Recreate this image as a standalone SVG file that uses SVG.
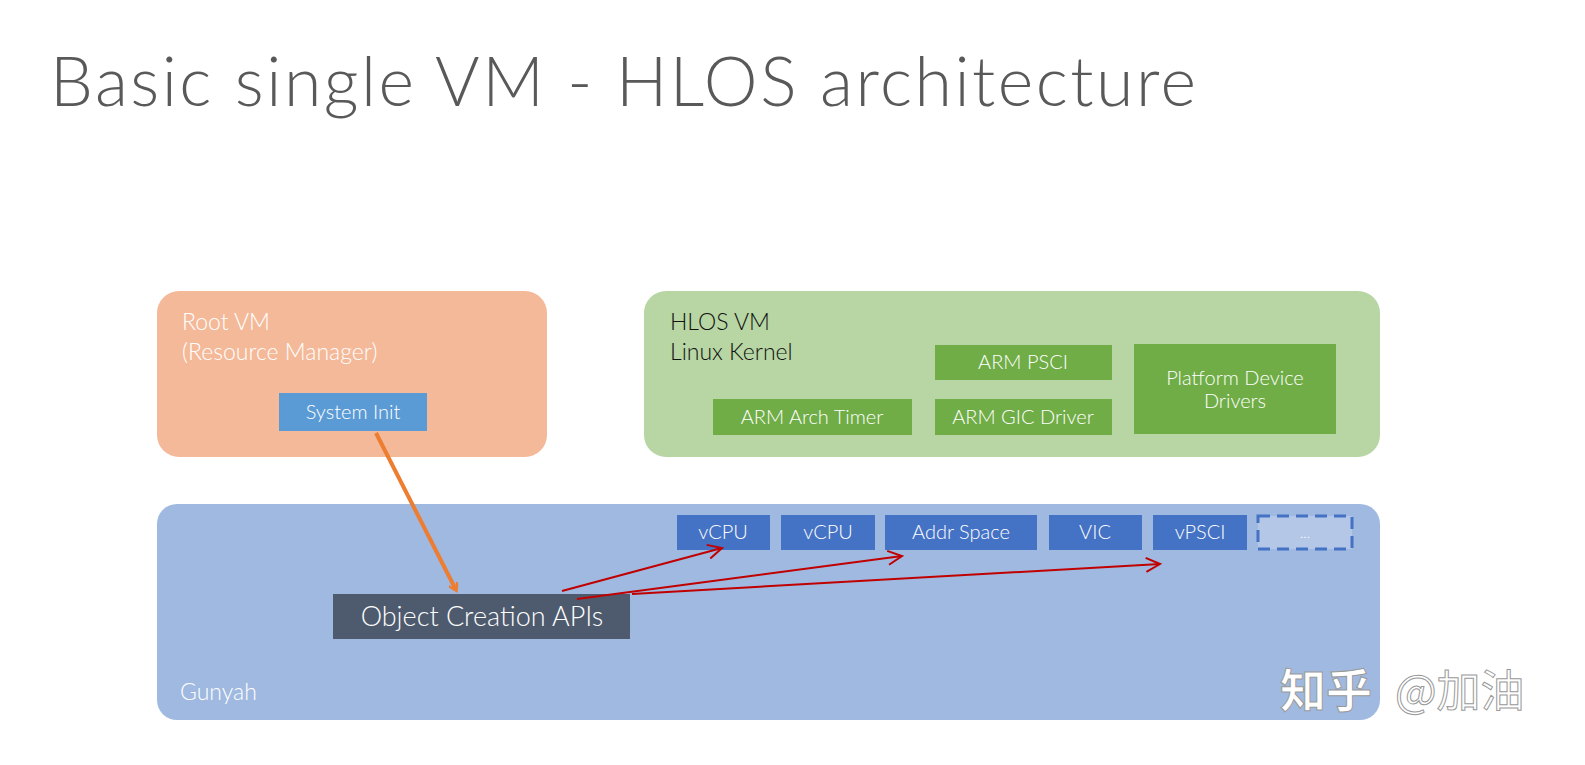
<svg xmlns="http://www.w3.org/2000/svg" width="1585" height="765" viewBox="0 0 1585 765">
<defs>
<style>
text{font-family:"Lato","Open Sans","Liberation Sans",sans-serif;font-weight:300}
.w{fill:#fff;font-size:20px;text-anchor:middle}
.b{fill:#4472c4}
.g{fill:#70ad47}
</style>
<marker id="or" markerWidth="10" markerHeight="10" refX="7" refY="5" orient="auto" markerUnits="userSpaceOnUse" viewBox="0 0 10 10"><path d="M0,0 L8,5 L0,10" fill="none" stroke="#ed7d31" stroke-width="2.5"/></marker>
<marker id="rd" markerWidth="20" markerHeight="20" refX="16" refY="10" orient="auto" markerUnits="userSpaceOnUse" viewBox="0 0 20 20"><path d="M2,3 L16,10 L2,17" fill="none" stroke="#c00000" stroke-width="2"/></marker>
</defs>
<rect width="1585" height="765" fill="#fff"/>
<text x="50" y="106" font-size="68" fill="#595959" letter-spacing="2.5">Basic single VM - HLOS architecture</text>
<g id="rootvm">
<rect x="157" y="291" width="390" height="166" rx="22" fill="#f4b999"/>
<text x="182" y="330" font-size="23" fill="#fff">Root VM</text>
<text x="182" y="360" font-size="23" fill="#fff">(Resource Manager)</text>
</g>
<g id="sysinit"><rect x="279" y="393" width="148" height="38" fill="#5b9bd5"/><text class="w" x="353" y="419">System Init</text></g>
<g id="hlosvm">
<rect x="644" y="291" width="736" height="166" rx="22" fill="#b7d6a4"/>
<text x="670" y="330" font-size="23" fill="#111">HLOS VM</text>
<text x="670" y="360" font-size="23" fill="#111">Linux Kernel</text>
</g>
<g id="psci"><rect class="g" x="935" y="345" width="177" height="35"/><text class="w" x="1023" y="369">ARM PSCI</text></g>
<g id="timer"><rect class="g" x="713" y="399" width="199" height="36"/><text class="w" x="812" y="424">ARM Arch Timer</text></g>
<g id="gic"><rect class="g" x="935" y="399" width="177" height="36"/><text class="w" x="1023" y="424">ARM GIC Driver</text></g>
<g id="pdd"><rect class="g" x="1134" y="344" width="202" height="90"/><text class="w" x="1235" y="385">Platform Device</text><text class="w" x="1235" y="408">Drivers</text></g>
<g id="gunyah">
<rect x="157" y="504" width="1223" height="216" rx="20" fill="#a0b9e0"/>
<text x="180" y="700" font-size="23" fill="#fff">Gunyah</text>
</g>
<g id="vcpu1"><rect class="b" x="677" y="515" width="93" height="35"/><text class="w" x="723" y="539">vCPU</text></g>
<g id="vcpu2"><rect class="b" x="781" y="515" width="94" height="35"/><text class="w" x="828" y="539">vCPU</text></g>
<g id="addr"><rect class="b" x="885" y="515" width="152" height="35"/><text class="w" x="961" y="539">Addr Space</text></g>
<g id="vic"><rect class="b" x="1049" y="515" width="93" height="35"/><text class="w" x="1095" y="539">VIC</text></g>
<g id="vpsci"><rect class="b" x="1153" y="515" width="94" height="35"/><text class="w" x="1200" y="539">vPSCI</text></g>
<g id="more"><rect x="1258" y="516" width="94" height="33" fill="#b4c7e7" stroke="#4472c4" stroke-width="3" stroke-dasharray="12,7"/><text class="w" x="1305" y="538" style="font-size:14px">...</text></g>
<g id="oca"><rect x="333" y="594" width="297" height="45" fill="#4e5b6e"/><text class="w" x="482" y="626" style="font-size:27px">Object Creation APIs</text></g>
<g id="connectors" fill="none">
<line x1="376" y1="433" x2="456" y2="590" stroke="#ed7d31" stroke-width="4" marker-end="url(#or)"/>
<line x1="562" y1="591" x2="722" y2="548" stroke="#c00000" stroke-width="2" marker-end="url(#rd)"/>
<line x1="577" y1="599" x2="902" y2="556" stroke="#c00000" stroke-width="2" marker-end="url(#rd)"/>
<line x1="632" y1="594" x2="1160" y2="564" stroke="#c00000" stroke-width="2" marker-end="url(#rd)"/>
</g>
<text x="1280" y="707" font-size="46" fill="#fff" stroke="#999" stroke-width="1" style="font-family:'Noto Sans CJK SC',sans-serif;font-weight:bold">知乎</text>
<text x="1395" y="707" font-size="44" fill="#fff" stroke="#999" stroke-width="1" style="font-family:'Noto Sans CJK SC',sans-serif;font-weight:400">@加油</text>
</svg>
